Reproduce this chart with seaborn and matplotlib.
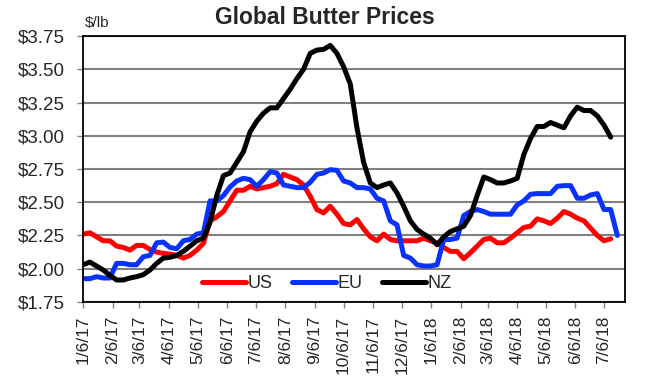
import numpy as np
import pandas as pd
import matplotlib
matplotlib.use("Agg")
import matplotlib.pyplot as plt
from matplotlib.ticker import FuncFormatter
import seaborn as sns

# weekly prices ($/lb), first week 1/6/17
start_date = "2017-01-06"
us_prices = [2.26, 2.27, 2.24, 2.21, 2.21, 2.17, 2.16, 2.14, 2.175, 2.175,
             2.145, 2.125, 2.115, 2.11, 2.10, 2.08, 2.10, 2.14, 2.19, 2.36,
             2.39, 2.43, 2.51, 2.59, 2.59, 2.62, 2.60, 2.61, 2.62, 2.64,
             2.71, 2.69, 2.67, 2.63, 2.545, 2.445, 2.42, 2.47, 2.41, 2.34,
             2.33, 2.37, 2.30, 2.24, 2.21, 2.26, 2.22, 2.21, 2.21, 2.21,
             2.21, 2.23, 2.21, 2.195, 2.16, 2.13, 2.13, 2.075, 2.12, 2.17,
             2.22, 2.23, 2.195, 2.195, 2.23, 2.27, 2.31, 2.32, 2.375, 2.36,
             2.34, 2.38, 2.43, 2.41, 2.38, 2.36, 2.305, 2.25, 2.21, 2.225]
eu_prices = [1.925, 1.925, 1.94, 1.93, 1.93, 2.04, 2.04, 2.03, 2.03, 2.09,
             2.10, 2.195, 2.20, 2.16, 2.15, 2.21, 2.22, 2.26, 2.27, 2.51,
             2.51, 2.55, 2.615, 2.66, 2.68, 2.67, 2.62, 2.67, 2.73, 2.72,
             2.63, 2.62, 2.61, 2.61, 2.65, 2.71, 2.72, 2.745, 2.74, 2.66,
             2.645, 2.61, 2.61, 2.60, 2.53, 2.51, 2.36, 2.33, 2.10, 2.08,
             2.03, 2.02, 2.02, 2.03, 2.22, 2.22, 2.23, 2.40, 2.43, 2.445,
             2.43, 2.41, 2.41, 2.41, 2.41, 2.48, 2.51, 2.56, 2.565, 2.565,
             2.565, 2.62, 2.625, 2.625, 2.53, 2.53, 2.555, 2.565, 2.445, 2.445,
             2.25]
nz_prices = [2.03, 2.05, 2.02, 1.99, 1.95, 1.915, 1.915, 1.93, 1.94, 1.955,
             1.99, 2.04, 2.08, 2.085, 2.10, 2.13, 2.17, 2.21, 2.23, 2.35,
             2.55, 2.70, 2.72, 2.80, 2.88, 3.03, 3.11, 3.17, 3.21, 3.21,
             3.28, 3.35, 3.43, 3.50, 3.62, 3.645, 3.65, 3.68, 3.62, 3.52,
             3.39, 3.06, 2.80, 2.645, 2.61, 2.63, 2.645, 2.57, 2.47, 2.36,
             2.295, 2.26, 2.23, 2.18, 2.24, 2.28, 2.30, 2.32, 2.40, 2.55,
             2.69, 2.67, 2.645, 2.645, 2.66, 2.68, 2.86, 2.98, 3.07, 3.07,
             3.10, 3.08, 3.06, 3.15, 3.215, 3.19, 3.19, 3.15, 3.08, 2.99]

regions = ["US", "EU", "NZ"]
colors = {"US": "#ff0000", "EU": "#0a32ff", "NZ": "#000000"}

tick_labels = ["1/6/17", "2/6/17", "3/6/17", "4/6/17", "5/6/17", "6/6/17",
               "7/6/17", "8/6/17", "9/6/17", "10/6/17", "11/6/17", "12/6/17",
               "1/6/18", "2/6/18", "3/6/18", "4/6/18", "5/6/18", "6/6/18",
               "7/6/18"]


def build_frame():
    """长表：date / region / price"""
    dates = pd.date_range(start_date, periods=len(eu_prices), freq="7D")
    frames = []
    for name, vals in zip(regions, [us_prices, eu_prices, nz_prices]):
        frames.append(pd.DataFrame({"date": dates[:len(vals)],
                                    "region": name,
                                    "price": vals}))
    return pd.concat(frames, ignore_index=True)


df = build_frame()

sns.set_style("white")
plt.rcParams['font.family'] = ['Liberation Sans', 'DejaVu Sans']

fig, ax = plt.subplots(figsize=(6.5, 3.76), dpi=100)
fig.subplots_adjust(left=0.128, right=0.9615, bottom=0.197, top=0.904)

sns.lineplot(data=df, x="date", y="price", hue="region", hue_order=regions,
             palette=colors, linewidth=3.6, estimator=None, ax=ax)

ax.set_ylim(1.75, 3.75)
ax.set_xlim(pd.Timestamp(start_date), pd.Timestamp("2018-07-28"))
ax.set_yticks(np.arange(1.75, 3.76, 0.25))
ax.yaxis.set_major_formatter(FuncFormatter(lambda v, p: f"${v:.2f}"))

tick_pos = pd.to_datetime(tick_labels, format="%m/%d/%y")
ax.set_xticks(tick_pos)
ax.set_xticklabels(tick_labels, rotation=90, fontsize=12.5)
ax.tick_params(axis="y", labelsize=13.5, pad=9)
ax.tick_params(axis="x", pad=6)
ax.tick_params(axis="both", direction="out", length=4, width=1,
               color="#808080", bottom=True, left=True)

ax.grid(axis="y", color="#808080", linewidth=1.5)
ax.set_axisbelow(True)
for s in ax.spines.values():
    s.set_color("black")
    s.set_linewidth(1.3)

ax.set_xlabel("")
ax.set_ylabel("")

handles, labels = ax.get_legend_handles_labels()
ax.legend(handles, labels, loc="center", bbox_to_anchor=(0.45, 0.07), ncol=3,
          frameon=False, fontsize=13, handlelength=2.4, handletextpad=0.1,
          columnspacing=1.1, borderaxespad=0)

fig.text(0.5, 0.953, "Global Butter Prices", ha="center", va="center",
         fontsize=16.5, fontweight="bold")
fig.text(0.131, 0.94, "$/lb", ha="left", va="center", fontsize=11)

fig.savefig("out.png", dpi=100)
